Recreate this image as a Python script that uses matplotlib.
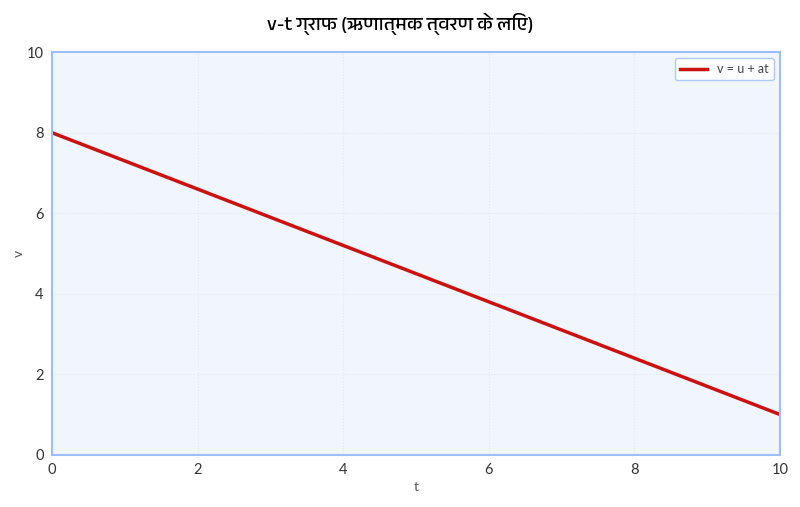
import matplotlib
matplotlib.use('Agg')
import matplotlib.pyplot as plt
from matplotlib import font_manager

# data
t = [0, 1, 2, 3, 4, 5, 6, 7, 8, 9, 10]
v = [8.0, 7.3, 6.6, 5.9, 5.2, 4.5, 3.8, 3.1, 2.4, 1.7, 1.0]
title = 'v-t ग्राफ (ऋणात्मक त्वरण के लिए)'
line_label = 'v = u + at'

# pick whatever Devanagari-capable font is installed for the title
names = sorted({f.name for f in font_manager.fontManager.ttflist})
deva = [n for n in names if 'Devanagari' in n or 'Lohit' in n or 'Mukta' in n]

plt.rcParams['font.family'] = ['Lato', 'DejaVu Sans']

fig = plt.figure(figsize=(8.0, 5.07), dpi=100)
ax = fig.add_axes([0.065, 0.103, 0.91, 0.794])
ax.set_facecolor('#f1f6fd')

ax.plot(t, v, color='#cc1111', linewidth=2.5, label=line_label)

ax.set_xlim(0, 10)
ax.set_ylim(0, 10)
ax.set_xticks(range(0, 11, 2))
ax.set_yticks(range(0, 11, 2))
ax.tick_params(length=0, labelsize=10.5, colors='#333333', pad=6)
ax.grid(True, linestyle=':', color='#e2e7ee', linewidth=0.8)
ax.set_axisbelow(True)
for s in ax.spines.values():
    s.set_color('#9cbff5')
    s.set_linewidth(1.5)

ax.set_xlabel('t', fontsize=10, color='#555555')
ax.set_ylabel('v', fontsize=10, color='#555555')
ax.xaxis.set_label_coords(0.5, -0.065)
ax.yaxis.set_label_coords(-0.037, 0.5)
fig.suptitle(title, fontsize=14, fontweight='bold', y=0.975,
             family=deva[:1] + ['DejaVu Sans'])

leg = ax.legend(loc='upper right', fontsize=9, frameon=True, fancybox=True,
                handlelength=2.2, labelcolor='#444444')
leg.get_frame().set_edgecolor('#9cbff5')
leg.get_frame().set_facecolor('white')

fig.savefig('out.png', dpi=100)
